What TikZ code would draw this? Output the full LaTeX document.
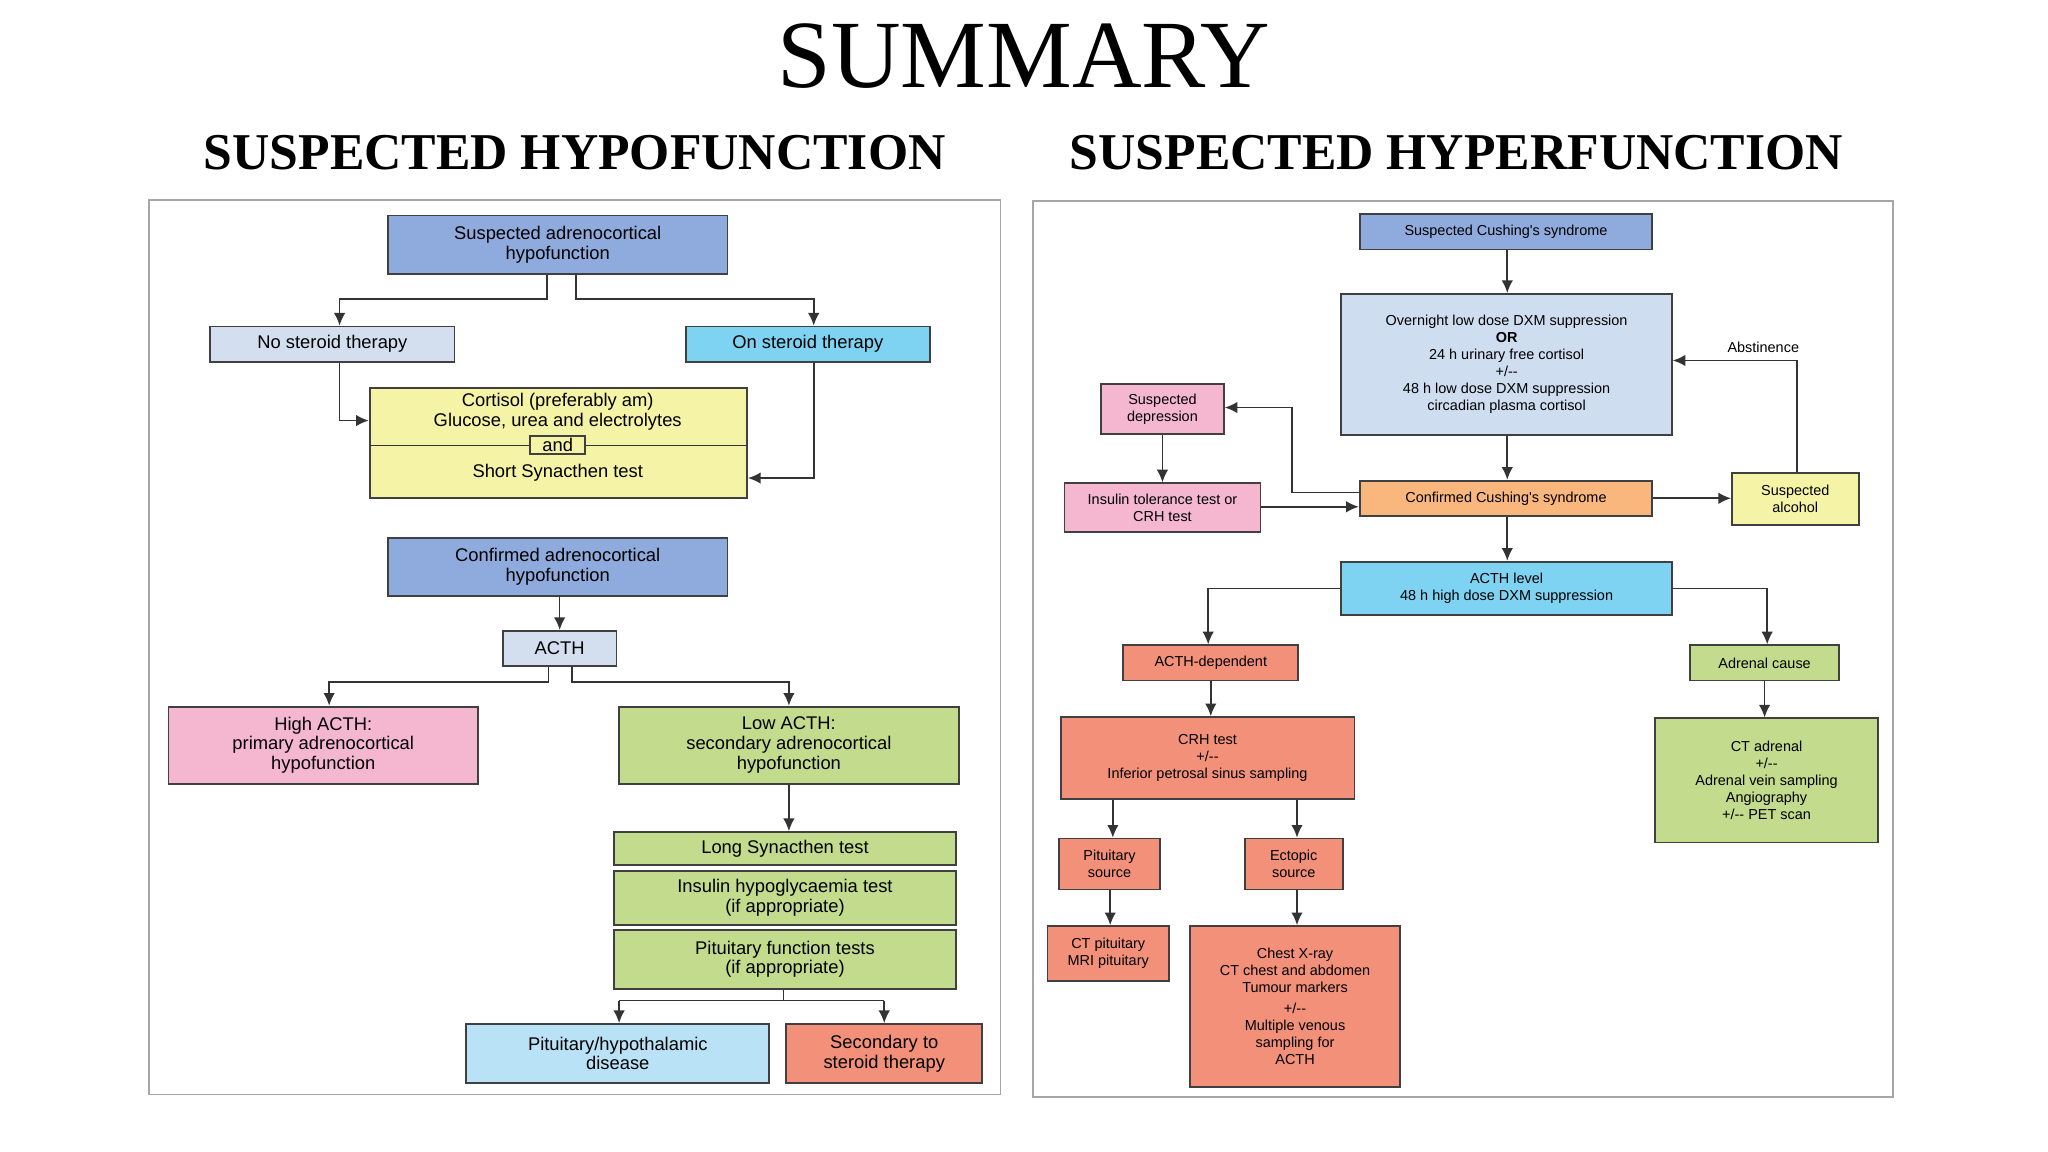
\documentclass[tikz,border=0pt]{standalone}
\usepackage{fontspec}
\setmainfont{Liberation Serif}
\newfontfamily\boxfont{Liberation Sans}
\usetikzlibrary{arrows.meta}
\definecolor{cblue}{HTML}{8FAADC}
\definecolor{cgrey}{HTML}{D3DFEF}
\definecolor{ccyan}{HTML}{7FD3F2}
\definecolor{cyel}{HTML}{F4F3A6}
\definecolor{cpink}{HTML}{F5B7D0}
\definecolor{cgreen}{HTML}{C3DB8C}
\definecolor{csal}{HTML}{F29079}
\definecolor{corange}{HTML}{F9B77E}
\definecolor{clblue}{HTML}{B9E2F6}
\definecolor{cover}{HTML}{CFDDF0}
\tikzset{
 bx/.style={draw=black!75,line width=0.8pt,align=center,inner sep=1pt},
 lf/.style={font=\boxfont\fontsize{8}{8.6}\selectfont,align=center},
 rf/.style={font=\boxfont\fontsize{6.3}{7.4}\selectfont,align=center},
 arr/.style={draw=black!80,line width=0.7pt,-{Latex[length=5.5pt,width=5pt]}},
 ln/.style={draw=black!80,line width=0.7pt},
 frame/.style={draw=black!35,line width=0.8pt}
}
\newcommand\bx[7]{\node[bx,#6,minimum width={(#4-#2)*0.02cm},minimum height={(#5-#3)*0.02cm}] (#1) at ({(#2+#4)/2},{(#3+#5)/2}) {#7};}
\begin{document}
\begin{tikzpicture}[x=0.02cm,y=-0.02cm]
\fill[white] (0,0) rectangle (1568,882);
\useasboundingbox (0,0) rectangle (1568,882);
\node (title) at (784,43) {\fontsize{42}{46}\selectfont SUMMARY};
\node (hl) at (440,117) {\fontsize{22.5}{26}\selectfont\bfseries SUSPECTED HYPOFUNCTION};
\node (hr) at (1115,117) {\fontsize{22.5}{26}\selectfont\bfseries SUSPECTED HYPERFUNCTION};
\draw[frame] (114,153) rectangle (766,838);
\draw[frame] (791,154) rectangle (1449,840);
% left
\bx{A}{297}{165}{557}{210}{lf,fill=cblue}{Suspected adrenocortical\\hypofunction}
\bx{ns}{161}{250}{348}{277}{lf,fill=cgrey}{No steroid therapy}
\bx{os}{525}{250}{712}{277}{lf,fill=ccyan}{On steroid therapy}
\bx{cort}{283}{297}{572}{381}{lf,fill=cyel}{}
\draw[ln] (283,341) -- (572,341);
\node[lf] (ct1) at (427,315) {Cortisol (preferably am)\\Glucose, urea and electrolytes};
\node[lf] (ct2) at (427,362) {Short Synacthen test};
\bx{and}{406}{334}{448}{347}{lf,fill=cyel}{and}
\bx{conf}{297}{412}{557}{456}{lf,fill=cblue}{Confirmed adrenocortical\\hypofunction}
\bx{acth}{385}{483}{472}{510}{lf,fill=cgrey}{ACTH}
\bx{high}{129}{541}{366}{600}{lf,fill=cpink}{High ACTH:\\primary adrenocortical\\hypofunction}
\bx{low}{474}{541}{734}{600}{lf,fill=cgreen}{Low ACTH:\\secondary adrenocortical\\hypofunction}
\bx{long}{470}{637}{732}{662}{lf,fill=cgreen}{Long Synacthen test}
\bx{ins}{470}{667}{732}{708}{lf,fill=cgreen}{Insulin hypoglycaemia test\\(if appropriate)}
\bx{pft}{470}{712}{732}{757}{lf,fill=cgreen}{Pituitary function tests\\(if appropriate)}
\bx{phd}{357}{784}{589}{829}{lf,fill=clblue}{Pituitary/hypothalamic\\disease}
\bx{sst}{602}{784}{752}{829}{lf,fill=csal}{Secondary to\\steroid therapy}
\draw[arr] (419,0 |- A.south) -- (419,229) -- (260,229) -- (260,0 |- ns.north);
\draw[arr] (441,0 |- A.south) -- (441,229) -- (623,229) -- (623,0 |- os.north);
\draw[arr] (260,0 |- ns.south) -- (260,322) -- (cort.west |- 0,322);
\draw[arr] (623,0 |- os.south) -- (623,366) -- (cort.east |- 0,366);
\draw[arr] (conf.south -| acth.north) -- (acth.north);
\draw[arr] (420,0 |- acth.south) -- (420,522) -- (252,522) -- (high.north -| 252,0);
\draw[arr] (438,0 |- acth.south) -- (438,522) -- (604,522) -- (low.north);
\draw[arr] (low.south) -- (604,0 |- long.north);
\draw[ln] (600,0 |- pft.south) -- (600,766);
\draw[arr] (474,766) -- (677,766) (474,766) -- (474,0 |- phd.north);
\draw[arr] (677,766) -- (677,0 |- sst.north);
% right
\bx{sc}{1041}{164}{1265}{191}{rf,fill=cblue}{Suspected Cushing's syndrome}
\bx{ov}{1027}{225}{1280}{333}{rf,fill=cover}{Overnight low dose DXM suppression\\\textbf{OR}\\24 h urinary free cortisol\\+/--\\48 h low dose DXM suppression\\circadian plasma cortisol}
\bx{dep}{843}{294}{937}{332}{rf,fill=cpink}{Suspected\\depression}
\bx{itt}{815}{370}{965}{407}{rf,fill=cpink}{Insulin tolerance test or\\CRH test}
\bx{cc}{1041}{368}{1265}{395}{rf,fill=corange}{Confirmed Cushing's syndrome}
\bx{alc}{1326}{362}{1423}{402}{rf,fill=cyel}{Suspected\\alcohol}
\bx{al}{1027}{430}{1280}{471}{rf,fill=ccyan}{ACTH level\\48 h high dose DXM suppression}
\bx{ad}{860}{494}{994}{521}{rf,fill=csal}{ACTH-dependent}
\bx{adr}{1294}{494}{1408}{521}{rf,fill=cgreen}{Adrenal cause}
\bx{crh}{812}{549}{1037}{612}{rf,fill=csal}{CRH test\\+/--\\Inferior petrosal sinus sampling}
\bx{cta}{1267}{550}{1438}{645}{rf,fill=cgreen}{CT adrenal\\+/--\\Adrenal vein sampling\\Angiography\\+/-- PET scan}
\bx{ps}{811}{642}{888}{681}{rf,fill=csal}{Pituitary\\source}
\bx{es}{953}{642}{1028}{681}{rf,fill=csal}{Ectopic\\source}
\bx{ctp}{802}{709}{895}{751}{rf,fill=csal}{CT pituitary\\MRI pituitary}
\bx{cx}{911}{709}{1072}{832}{rf,fill=csal}{Chest X-ray\\CT chest and abdomen\\Tumour markers\\[2pt]+/--\\Multiple venous\\sampling for\\ACTH}
\draw[arr] (1154,0 |- sc.south) -- (1154,0 |- ov.north);
\draw[arr] (1154,0 |- ov.south) -- (1154,0 |- cc.north);
\draw[arr] (cc.east) -- (alc.west |- cc.east);
\draw[arr] (1376,0 |- alc.north) -- (1376,276) -- (ov.east |- 0,276);
\node[rf] (abs) at (1350,266) {Abstinence};
\draw[arr] (cc.west |- 0,377) -- (989,377) -- (989,312) -- (dep.east |- 0,312);
\draw[arr] (890,0 |- dep.south) -- (890,0 |- itt.north);
\draw[arr] (itt.east |- 0,388) -- (cc.west |- 0,388);
\draw[arr] (1154,0 |- cc.south) -- (1154,0 |- al.north);
\draw[arr] (al.west) -- (925,0 |- al.west) -- (925,0 |- ad.north);
\draw[arr] (al.east) -- (1353,0 |- al.east) -- (1353,0 |- adr.north);
\draw[arr] (927,0 |- ad.south) -- (927,0 |- crh.north);
\draw[arr] (1351,0 |- adr.south) -- (1351,0 |- cta.north);
\draw[arr] (852,0 |- crh.south) -- (852,0 |- ps.north);
\draw[arr] (993,0 |- crh.south) -- (993,0 |- es.north);
\draw[arr] (850,0 |- ps.south) -- (850,0 |- ctp.north);
\draw[arr] (993,0 |- es.south) -- (993,0 |- cx.north);
\end{tikzpicture}
\end{document}
